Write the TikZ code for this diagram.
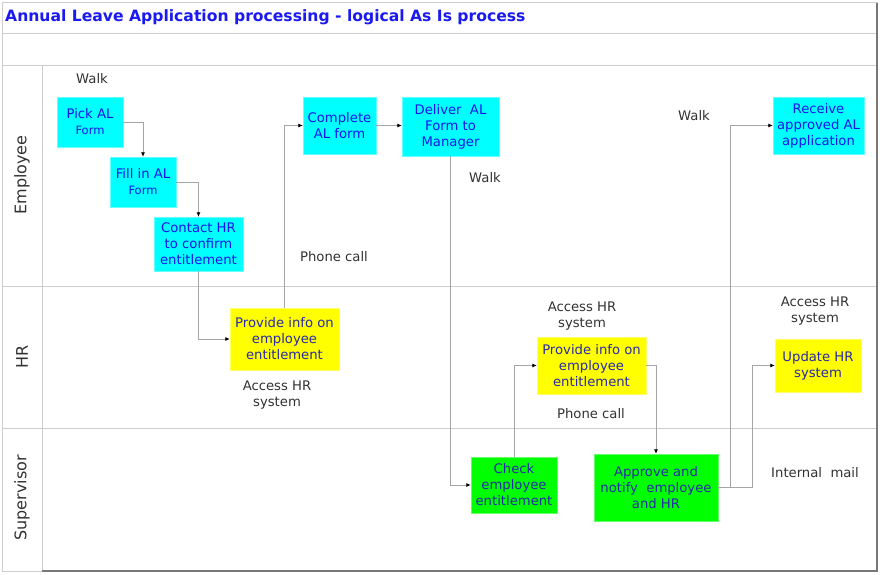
\documentclass[tikz,border=0pt]{standalone}
\usepackage{fontspec}
\setmainfont{DejaVu Sans}
\usetikzlibrary{arrows.meta}
\definecolor{boxcyan}{RGB}{0,255,255}
\definecolor{boxyellow}{RGB}{255,255,0}
\definecolor{boxgreen}{RGB}{0,255,0}
\definecolor{txtblue}{RGB}{20,20,235}
\definecolor{txtnavy}{RGB}{40,40,170}
\definecolor{titleblue}{RGB}{25,25,240}
\definecolor{lanegrey}{RGB}{205,205,205}
\definecolor{framegrey}{RGB}{120,120,120}
\definecolor{conngrey}{RGB}{165,165,165}
\definecolor{labelgrey}{RGB}{50,50,50}
\tikzset{
  procbox/.style={rectangle, inner sep=0pt, align=center,
    font=\fontsize{13.2}{16}\selectfont},
  cyanbox/.style={procbox, fill=boxcyan, draw=boxcyan!60!white, text=txtblue},
  yellowbox/.style={procbox, fill=boxyellow, draw=boxyellow!60!white, text=txtnavy},
  greenbox/.style={procbox, fill=boxgreen, draw=boxgreen!60!white, text=txtnavy},
  note/.style={align=center, text=labelgrey, inner sep=0pt,
    font=\fontsize{13.2}{16.5}\selectfont},
  lanelabel/.style={rotate=90, text=labelgrey, inner sep=0pt,
    font=\fontsize{16}{18}\selectfont},
  conn/.style={draw=conngrey, line width=0.8pt,
    -{Latex[black,length=4.5pt,width=4pt]}},
  laneline/.style={draw=lanegrey, line width=1pt}
}
\newcommand{\smallform}{{\fontsize{11.5}{14}\selectfont Form}}
\begin{document}
\begin{tikzpicture}[x=1pt,y=-1pt]
\useasboundingbox (0,0) rectangle (882,574);
\fill[white] (0,0) rectangle (882,574);
% frame and lanes
\draw[laneline] (2,33) -- (877,33);
\draw[laneline] (2,65) -- (877,65);
\draw[laneline] (42,65) -- (42,571);
\draw[laneline] (2,286) -- (877,286);
\draw[laneline] (2,428) -- (877,428);
\draw[draw=lanegrey, line width=1pt] (2,2) rectangle (877,571);
\draw[draw=framegrey, line width=1.4pt] (877,3) -- (877,571) -- (42,571);
% title
\node[anchor=west, text=titleblue, inner sep=0pt, font=\bfseries\fontsize{15.6}{18}\selectfont] (title) at (5,17) {Annual Leave Application processing - logical As Is process};
% lane labels
\node[lanelabel] (lemp) at (22,175) {Employee};
\node[lanelabel] (lhr) at (22,357) {HR};
\node[lanelabel] (lsup) at (22,498) {Supervisor};
% process boxes
\node[cyanbox, minimum width=66pt, minimum height=50pt] (pick) at (90,122) {Pick AL\\\smallform};
\node[cyanbox, minimum width=66pt, minimum height=50pt] (fill) at (143,182) {Fill in AL\\\smallform};
\node[cyanbox, minimum width=89pt, minimum height=54pt] (contact) at (198.5,244) {Contact HR\\to confirm\\entitlement};
\node[cyanbox, minimum width=73pt, minimum height=57pt] (complete) at (339.5,125.5) {Complete\\AL form};
\node[cyanbox, minimum width=97pt, minimum height=59pt] (deliver) at (450.5,126.5) {Deliver\ \ AL\\Form to\\Manager};
\node[cyanbox, minimum width=91pt, minimum height=57pt] (receive) at (818.5,125.5) {Receive\\approved AL\\application};
\node[yellowbox, minimum width=109pt, minimum height=62pt] (prov1) at (284.5,339) {Provide info on\\employee\\entitlement};
\node[yellowbox, minimum width=109pt, minimum height=57pt] (prov2) at (591.5,365.5) {Provide info on\\employee\\entitlement};
\node[yellowbox, minimum width=86pt, minimum height=53pt] (update) at (818,365.5) {Update HR\\system};
\node[greenbox, minimum width=86pt, minimum height=56pt] (check) at (514,485) {Check\\employee\\entitlement};
\node[greenbox, minimum width=124pt, minimum height=67pt] (approve) at (656,487.5) {Approve and\\notify\ \ employee\\and HR};
% notes
\node[note] (n1) at (92,79) {Walk};
\node[note] (n2) at (334,257) {Phone call};
\node[note] (n3) at (485,178) {Walk};
\node[note] (n4) at (694,116) {Walk};
\node[note] (n5) at (277,395) {Access HR\\system};
\node[note] (n6) at (582,316) {Access HR\\system};
\node[note] (n7) at (591,414) {Phone call};
\node[note] (n8) at (815,311) {Access HR\\system};
\node[note] (n9) at (815,473) {Internal\ \ mail};
% connectors
\draw[conn] (pick.east) -| (fill.north);
\draw[conn] (fill.east) -| (contact.north);
\draw[conn] (contact.south) |- (prov1.west);
\draw[conn] (prov1.north) |- (complete.west);
\draw[conn] (complete.east) -- (complete.east -| deliver.west);
\draw[conn] (deliver.south) |- (check.west);
\draw[conn] (check.north) |- (prov2.west);
\draw[conn] (prov2.east) -| (approve.north);
\coordinate (j1) at ([xshift=34pt]approve.east);
\coordinate (j2) at ([xshift=12pt]approve.east);
\draw[conn] (approve.east) -- (j1) |- (update.west);
\draw[conn] (approve.east) -- (j2) |- (receive.west);
\end{tikzpicture}
\end{document}
